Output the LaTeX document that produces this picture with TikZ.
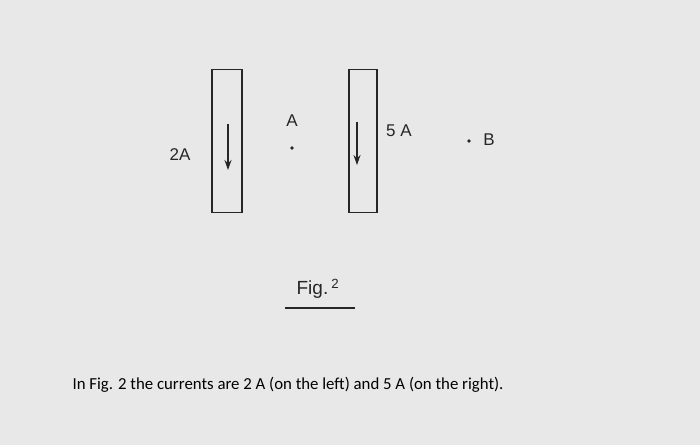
\documentclass[tikz,border=0pt]{standalone}
\usepackage{fontspec}
\usetikzlibrary{arrows.meta}
\setmainfont{Carlito}
\newfontfamily\hand{Liberation Sans}
\begin{document}
\begin{tikzpicture}[x=1pt,y=-1pt,
  wire/.style={draw=black!85,line width=1.5pt},
  hw/.style={font=\hand\fontsize{17}{19}\selectfont,text=black!85},
  cur/.style={draw=black!85,line width=1.3pt,-{Stealth[length=10pt,width=7pt]}}]
\fill[black!9] (0,0) rectangle (700,445);
\useasboundingbox (0,0) rectangle (700,445);
\node[wire,minimum width=30pt,minimum height=143pt,inner sep=0] (L) at (227,141) {};
\node[wire,minimum width=28pt,minimum height=143pt,inner sep=0] (R) at (363,141) {};
\coordinate (l1) at (228,124); \coordinate (l2) at (228,170);
\draw[cur] (l1) -- (l2);
\coordinate (r1) at (357,122); \coordinate (r2) at (357,165);
\draw[cur] (r1) -- (r2);
\node[hw] (i1) at (180,155) {2A};
\node[hw] (a) at (292,121) {A};
\fill[black!85] (292,148) circle (1.8pt);
\node[hw] (i2) at (399,131) {5 A};
\fill[black!85] (469,141) circle (1.8pt);
\node[hw] (b) at (489,140) {B};
\node[hw,font=\hand\fontsize{19}{21}\selectfont] (fig) at (318,289) {Fig.\,\textsuperscript{2}};
\draw[black!85,line width=1.2pt] (285,308) -- (355,308);
\node[font=\fontsize{16.8}{19}\selectfont,anchor=west] (cap) at (69,385) {In Fig. 2 the currents are 2 A (on the left) and 5 A (on the right).};
\end{tikzpicture}
\end{document}
